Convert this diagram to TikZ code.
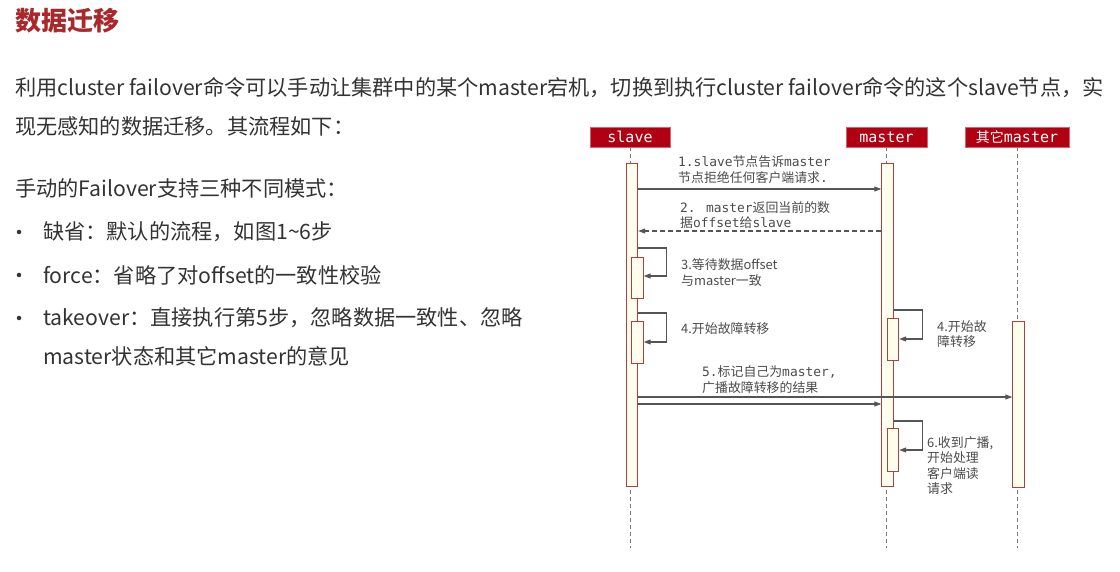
\documentclass[tikz,border=0pt]{standalone}
\usepackage{fontspec}
\setmainfont{Noto Sans CJK SC}
\newfontfamily\cjk{Noto Sans CJK SC}
\newfontfamily\monof{DejaVu Sans Mono}
\usetikzlibrary{arrows.meta}
\definecolor{titlered}{HTML}{A8282C}
\definecolor{txt}{HTML}{333333}
\definecolor{hdr}{HTML}{B00012}
\definecolor{barfill}{HTML}{FFFDEB}
\definecolor{barline}{HTML}{B04040}
\definecolor{ln}{HTML}{555555}
\tikzset{
  body/.style={anchor=west,inner sep=0pt,text=txt,font=\fontsize{21.2}{21.2}\selectfont},
  dot/.style={circle,fill=txt,inner sep=0pt,minimum size=4.5pt},
  hdrbox/.style={fill=hdr,draw=hdr!60!white,line width=0.6pt,text=white,inner sep=0pt,
    font=\monof\fontsize{15}{15}\selectfont,minimum height=20pt},
  bar/.style={draw=barline,fill=barfill,line width=0.9pt,inner sep=0pt,minimum width=11.5pt},
  life/.style={draw=ln!80,dashed,dash pattern=on 4pt off 3pt,line width=0.9pt},
  msg/.style={draw=ln,line width=1.1pt,-{Triangle[length=7pt,width=5pt]}},
  lbl/.style={anchor=west,inner sep=0pt,text=ln!90!black,align=left,font=\fontsize{12.9}{15.5}\selectfont},
}
\begin{document}
\begin{tikzpicture}[x=1pt,y=-1pt]
\useasboundingbox[fill=white] (0,0) rectangle (1120,572);
% text
\node[body,text=titlered,font=\bfseries\fontsize{26}{26}\selectfont] (title) at (15,21) {数据迁移};
\node[body] (l1) at (15,88) {利用cluster failover命令可以手动让集群中的某个master宕机，切换到执行cluster failover命令的这个slave节点，实};
\node[body] (l2) at (15,126) {现无感知的数据迁移。其流程如下：};
\node[body] (l3) at (15,188) {手动的Failover支持三种不同模式：};
\node[dot] (b1) at (19,232) {};
\node[body] (t1) at (43,232) {缺省：默认的流程，如图1\textasciitilde 6步};
\node[dot] (b2) at (19,275) {};
\node[body] (t2) at (43,275) {force：省略了对offset的一致性校验};
\node[dot] (b3) at (19,318) {};
\node[body] (t3) at (43,318) {takeover：直接执行第5步，忽略数据一致性、忽略};
\node[body] (t4) at (43,356) {master状态和其它master的意见};
% headers
\node[hdrbox,minimum width=80pt] (hs) at (630,137) {slave};
\node[hdrbox,minimum width=81pt] (hm) at (886.5,137) {master};
\node[hdrbox,minimum width=104pt] (ho) at (1017,137) {{\cjk\fontsize{14}{14}\selectfont 其它}master};
% lifelines
\coordinate (ends) at (631,548);
\coordinate (endm) at (887,548);
\coordinate (endo) at (1018,548);
\draw[life] (hs.south) -- (hs.south |- ends);
\draw[life] (hm.south) -- (hm.south |- endm);
\draw[life] (ho.south) -- (ho.south |- endo);
% bars
\node[bar,minimum height=323pt] (sb) at (632,324.5) {};
\node[bar,minimum height=323pt] (mb) at (887.5,324.5) {};
\node[bar,minimum height=166pt] (ob) at (1018.5,404) {};
\node[bar,minimum height=41pt] (s3) at (637.5,277.5) {};
\node[bar,minimum height=42pt] (s4) at (637.5,342) {};
\node[bar,minimum height=42pt] (m4) at (893,339) {};
\node[bar,minimum height=43pt] (m6) at (893,449.5) {};
% message rows
\coordinate (y1) at (0,189);
\coordinate (y2) at (0,231);
\coordinate (y3a) at (0,248);
\coordinate (y3b) at (0,276);
\coordinate (y4a) at (0,313);
\coordinate (y4b) at (0,342);
\coordinate (y5a) at (0,397);
\coordinate (y5b) at (0,404);
\coordinate (ym4a) at (0,310);
\coordinate (ym4b) at (0,339);
\coordinate (y6a) at (0,421);
\coordinate (y6b) at (0,450);
\draw[msg] (sb.east |- y1) -- (mb.west |- y1);
\draw[msg,dashed,dash pattern=on 5pt off 3pt] (mb.west |- y2) -- (sb.east |- y2);
\draw[msg] (sb.east |- y3a) -- ++(28,0) |- (s3.east |- y3b);
\draw[msg] (sb.east |- y4a) -- ++(28,0) |- (s4.east |- y4b);
\draw[msg] (mb.east |- ym4a) -- ++(29,0) |- (m4.east |- ym4b);
\draw[msg] (mb.east |- y6a) -- ++(29,0) |- (m6.east |- y6b);
\draw[msg] (sb.east |- y5a) -- (ob.west |- y5a);
\draw[msg] (sb.east |- y5b) -- (mb.west |- y5b);
% labels
\node[lbl] (n1) at (678,169.5) {{\monof 1.slave}节点告诉{\monof master}\\节点拒绝任何客户端请求{\monof .}};
\node[lbl] (n2) at (680,215) {{\monof 2. master}返回当前的数\\据{\monof offset}给{\monof slave}};
\node[lbl] (n3) at (681,272.5) {3.等待数据offset\\与master一致};
\node[lbl] (n4) at (681,329) {4.开始故障转移};
\node[lbl] (n5) at (702,379.5) {{\monof 5.}标记自己为{\monof master,}\\广播故障转移的结果};
\node[lbl] (n4m) at (937,334) {4.开始故\\障转移};
\node[lbl] (n6) at (927,465.5) {6.收到广播,\\开始处理\\客户端读\\请求};
\end{tikzpicture}
\end{document}
